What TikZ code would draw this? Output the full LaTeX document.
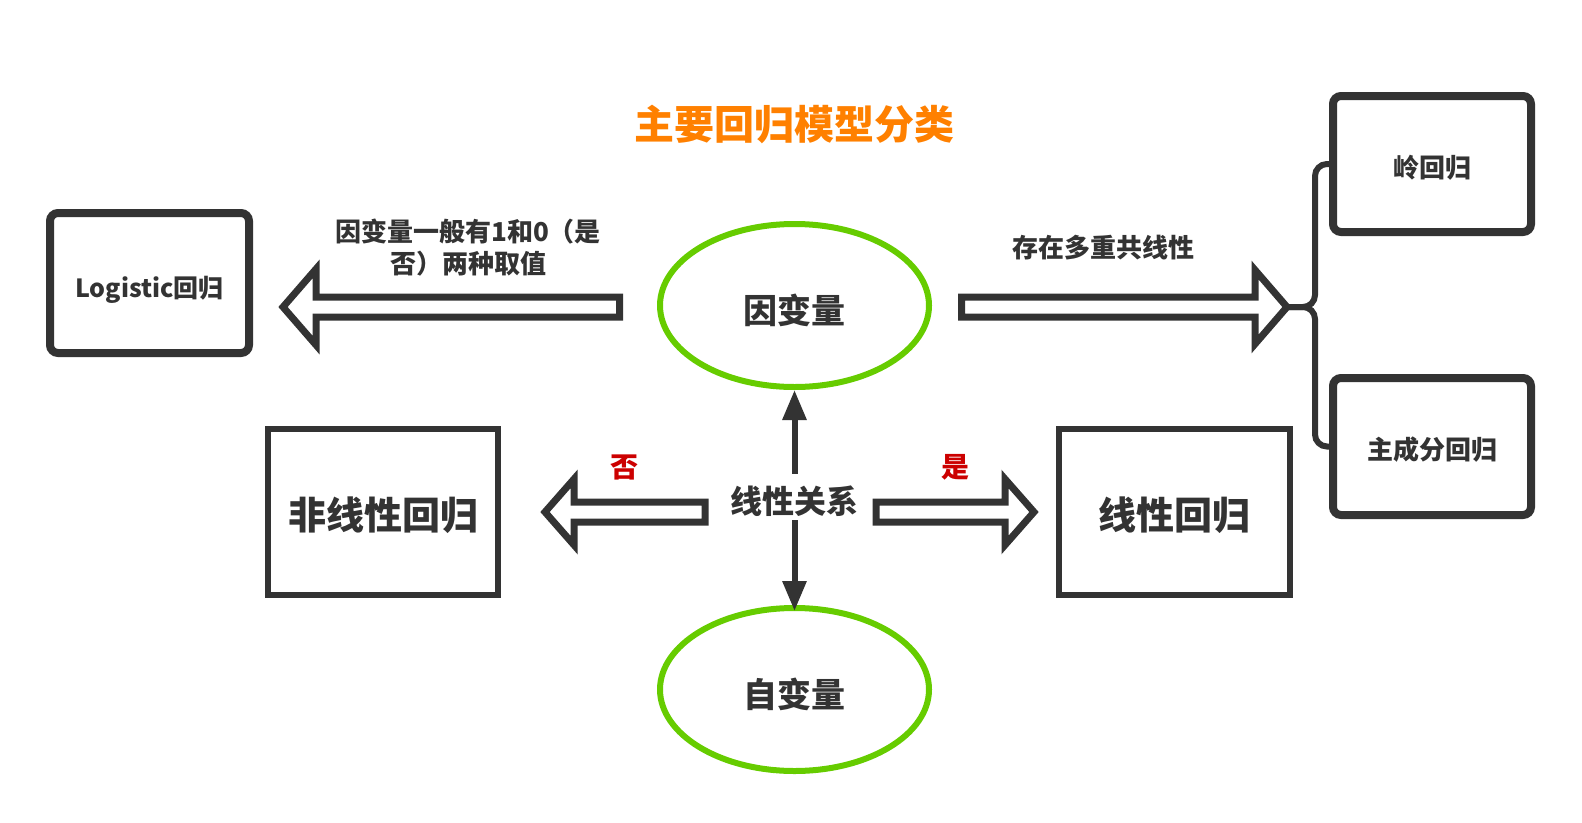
\documentclass[tikz,border=0pt]{standalone}
\usepackage{fontspec}
\setmainfont{Noto Sans CJK SC}
\usetikzlibrary{calc,arrows.meta,shapes.geometric}
\definecolor{dk}{HTML}{333333}
\definecolor{grn}{HTML}{66CC00}
\definecolor{org}{HTML}{FF8000}
\definecolor{rd}{HTML}{CC0000}
\tikzset{
  hol/.style={draw=dk, line width=7pt, line join=miter, fill=white},
  rbox/.style={draw=dk, line width=8pt, rounded corners=8pt, text height=29.8pt, text depth=3pt, font=\bfseries\fontsize{26}{28}\selectfont, text=dk},
  sbox/.style={draw=dk, line width=6pt, minimum width=230pt, minimum height=166pt, text height=39.9pt, text depth=4pt, font=\bfseries\fontsize{38}{40}\selectfont, text=dk},
  ell/.style={ellipse, draw=grn, line width=6pt, minimum width=269pt, minimum height=163pt, text height=40.8pt, text depth=4pt, font=\bfseries\fontsize{34}{36}\selectfont, text=dk},
  lab/.style={font=\bfseries\fontsize{26}{32}\selectfont, text=dk},
  redlab/.style={font=\bfseries\fontsize{28}{30}\selectfont, text=rd},
  varr/.style={draw=dk, line width=6pt, -{Triangle[length=30pt,width=23pt]}},
  brk/.style={draw=dk, line width=6pt, rounded corners=12pt}
}
\newcommand\hollowarr[5]{%
  \coordinate (#1-base) at ($(#2)!#5!(#1)$);
  \draw[hol] ($(#1)!#3!90:(#2)$) -- ($(#1-base)!#3!-90:(#1)$) -- ($(#1-base)!#4!-90:(#1)$)
     -- (#2) -- ($(#1-base)!#4!90:(#1)$) -- ($(#1-base)!#3!90:(#1)$) -- ($(#1)!#3!-90:(#2)$) -- cycle;
}
\begin{document}
\begin{tikzpicture}[x=1pt,y=-1pt]
\useasboundingbox (0,0) rectangle (1582,822);
\node[font=\bfseries\fontsize{40}{42}\selectfont, text=org] (title) at (794,124) {主要回归模型分类};

\node[rbox, minimum width=199pt, minimum height=140pt, font=\bfseries\fontsize{25}{28}\selectfont, text height=31pt, text depth=3pt] (logi) at (149.5,283) {Logistic回归};
\node[rbox, minimum width=198pt, minimum height=136pt] (ridge) at (1432,164) {岭回归};
\node[rbox, minimum width=198pt, minimum height=137pt] (pca) at (1432,446.5) {主成分回归};

\node[ell] (dep) at (794.5,305.5) {因变量};
\node[ell] (ind) at (794.5,689.5) {自变量};

\node[sbox] (nonlin) at (383,512) {非线性回归};
\node[sbox, minimum width=231pt] (lin) at (1174.5,512) {线性回归};

\node[font=\bfseries\fontsize{32}{34}\selectfont, text=dk, inner sep=2pt, text height=37.6pt, text depth=4.4pt] (rel) at (794.5,497) {线性关系};
\draw[varr] (rel) -- (dep);
\draw[varr, shorten >=-6pt] (rel) -- (ind);

% hollow arrows
\coordinate (lA) at (619.5,307); \coordinate (lB) at (283,307);
\hollowarr{lA}{lB}{10pt}{38pt}{33pt}
\coordinate (rA) at (961.5,307); \coordinate (rB) at (1287,307);
\hollowarr{rA}{rB}{10pt}{37pt}{32pt}
\coordinate (sA) at (705,512); \coordinate (sB) at (545,512);
\hollowarr{sA}{sB}{10pt}{33pt}{29pt}
\coordinate (tA) at (876,512); \coordinate (tB) at (1034,512);
\hollowarr{tA}{tB}{10pt}{33pt}{29pt}

% bracket
\coordinate (bx) at (1315,307);
\draw[brk] (ridge.west) -| (bx) -- (rB);
\draw[brk] (pca.west) -| (bx) -- (rB);

% labels
\node[lab, align=center] (depnote) at (468,248) {因变量一般有1和0（是\\否）两种取值};
\node[lab] (mcol) at (1103,248) {存在多重共线性};
\node[redlab] (no) at (624,467) {否};
\node[redlab] (yes) at (955,467) {是};
\end{tikzpicture}
\end{document}
